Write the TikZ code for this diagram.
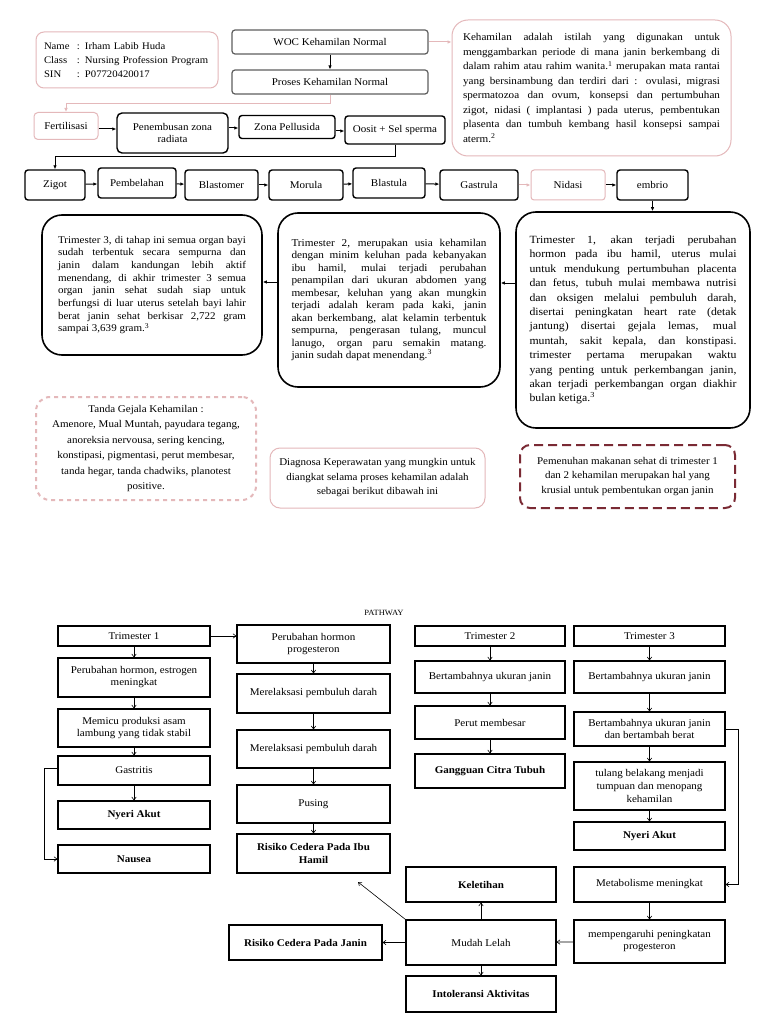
\documentclass[tikz,border=0pt]{standalone}
\usepackage{fontspec}
\setmainfont{Liberation Serif}[FakeStretch=1.07]
\usetikzlibrary{arrows.meta}
\definecolor{pinkline}{RGB}{228,184,186}
\definecolor{wine}{RGB}{122,42,52}
\definecolor{wocgray}{RGB}{95,95,95}
\tikzset{
  pinkbox/.style={draw=pinkline, line width=1pt, rounded corners=6pt, inner sep=0pt, align=center},
  wocbox/.style={draw=wocgray, line width=1.2pt, rounded corners=3pt, inner sep=0pt, minimum width=196, minimum height=24},
  stagebox/.style={draw, line width=1.4pt, rounded corners=3pt, inner sep=0pt, align=center, minimum height=30},
  bigbox/.style={draw, line width=1.6pt, rounded corners=20pt, inner sep=0pt, align=justify},
  pathbox/.style={draw, line width=1.1pt, inner sep=0pt, align=center},
  arr/.style={-{Latex[length=4pt,width=3.5pt]}, line width=1pt},
  pinkarr/.style={-{Latex[length=4pt,width=3.5pt]}, line width=1pt, draw=pinkline},
  parr/.style={-{Straight Barb[length=3pt,width=4.5pt]}, line width=0.6pt}
}
\begin{document}
\begin{tikzpicture}[x=1pt, y=-1pt, font=\fontsize{10.3}{12}\selectfont]
\useasboundingbox (0,0) rectangle (768,1024);
\fill[white] (0,0) rectangle (768,1024);

% Identitas
\node[pinkbox, rounded corners=8pt, minimum width=182, minimum height=56, text width=166, align=left,
  font=\fontsize{10}{14}\selectfont] (ident) at (127,60)
  {\makebox[33pt][l]{Name}: Irham Labib Huda\\ \makebox[33pt][l]{Class}: Nursing Profession Program\\ \makebox[33pt][l]{SIN}: P07720420017};

% Judul WOC
\node[wocbox] (woc) at (330,42) {WOC Kehamilan Normal};
\node[wocbox] (proses) at (330,82) {Proses Kehamilan Normal};
\draw[arr] (woc) -- (proses);

% Pengertian kehamilan
\node[pinkbox, rounded corners=16pt, minimum width=279, minimum height=136, text width=257, align=justify,
  font=\fontsize{10.4}{14.5}\selectfont] (pengertian) at (591.5,88)
  {Kehamilan adalah istilah yang digunakan untuk\linebreak
   menggambarkan periode di mana janin berkembang di\linebreak
   dalam rahim atau rahim wanita.\textsuperscript{1} merupakan mata rantai\linebreak
   yang bersinambung dan terdiri dari : ovulasi, migrasi\linebreak
   spermatozoa dan ovum, konsepsi dan pertumbuhan\linebreak
   zigot, nidasi ( implantasi ) pada uterus, pembentukan\linebreak
   plasenta dan tumbuh kembang hasil konsepsi sampai\linebreak
   aterm.\textsuperscript{2}};
\draw[pinkarr] (woc.east) -- (woc.east -| pengertian.west);

% Fertilisasi
\node[pinkbox, rounded corners=4pt, minimum width=64, minimum height=27] (fertil) at (66,126) {Fertilisasi};
\node[stagebox, minimum width=111, minimum height=40, rounded corners=5pt] (tembus) at (172.5,133) {Penembusan zona\\ radiata};
\node[stagebox, minimum width=96, minimum height=23] (zona) at (287,127) {Zona Pellusida};
\node[stagebox, minimum width=100, minimum height=28] (oosit) at (395,130) {Oosit + Sel sperma};
\draw[pinkarr] (proses.south) -- ++(0,9) -| (fertil.north);
\draw[arr] (fertil.east |- 0,129) -- (tembus.west |- 0,129);
\draw[arr] (tembus.east |- 0,128) -- (zona.west |- 0,128);
\draw[arr] (zona.east |- 0,131) -- (oosit.west |- 0,131);

% Tahap perkembangan
\node[stagebox, minimum width=60] (zigot) at (55,185) {Zigot};
\node[stagebox, minimum width=78] (pembelahan) at (137,183) {Pembelahan};
\node[stagebox, minimum width=73] (blastomer) at (221.5,185) {Blastomer};
\node[stagebox, minimum width=74] (morula) at (306,185) {Morula};
\node[stagebox, minimum width=72] (blastula) at (389,183) {Blastula};
\node[stagebox, minimum width=78] (gastrula) at (479,185) {Gastrula};
\node[pinkbox, rounded corners=3pt, minimum width=74, minimum height=30] (nidasi) at (568,185) {Nidasi};
\node[stagebox, minimum width=71] (embrio) at (652.5,185) {embrio};
\draw[arr] (oosit.south) -- ++(0,12) -| (zigot.north);
\draw[arr] (zigot) -- (pembelahan);
\draw[arr] (pembelahan) -- (blastomer);
\draw[arr] (blastomer) -- (morula);
\draw[arr] (morula) -- (blastula);
\draw[arr] (blastula) -- (gastrula);
\draw[pinkarr] (gastrula) -- (nidasi);
\draw[arr] (nidasi) -- (embrio);

% Trimester
\node[bigbox, minimum width=234, minimum height=216, text width=207, font=\fontsize{11}{14.4}\selectfont] (tri1) at (633,320)
  {Trimester 1, akan terjadi perubahan\linebreak
   hormon pada ibu hamil, uterus mulai\linebreak
   untuk mendukung pertumbuhan placenta\linebreak
   dan fetus, tubuh mulai membawa nutrisi\linebreak
   dan oksigen melalui pembuluh darah,\linebreak
   disertai peningkatan heart rate (detak\linebreak
   jantung) disertai gejala lemas, mual\linebreak
   muntah, sakit kepala, dan konstipasi.\linebreak
   trimester pertama merupakan waktu\linebreak
   yang penting untuk perkembangan janin,\linebreak
   akan terjadi perkembangan organ diakhir\linebreak
   bulan ketiga.\textsuperscript{3}};
\node[bigbox, minimum width=222, minimum height=174, text width=195, font=\fontsize{10.5}{12.5}\selectfont] (tri2) at (389,300)
  {Trimester 2, merupakan usia kehamilan\linebreak
   dengan minim keluhan pada kebanyakan\linebreak
   ibu hamil, mulai terjadi perubahan\linebreak
   penampilan dari ukuran abdomen yang\linebreak
   membesar, keluhan yang akan mungkin\linebreak
   terjadi adalah keram pada kaki, janin\linebreak
   akan berkembang, alat kelamin terbentuk\linebreak
   sempurna, pengerasan tulang, muncul\linebreak
   lanugo, organ paru semakin matang.\linebreak
   janin sudah dapat menendang.\textsuperscript{3}};
\node[bigbox, minimum width=220, minimum height=140, text width=188, font=\fontsize{10.3}{12.7}\selectfont] (tri3) at (152,285)
  {Trimester 3, di tahap ini semua organ bayi\linebreak
   sudah terbentuk secara sempurna dan\linebreak
   janin dalam kandungan lebih aktif\linebreak
   menendang, di akhir trimester 3 semua\linebreak
   organ janin sehat sudah siap untuk\linebreak
   berfungsi di luar uterus setelah bayi lahir\linebreak
   berat janin sehat berkisar 2,722 gram\linebreak
   sampai 3,639 gram.\textsuperscript{3}};
\draw[arr] (embrio.south) -- (embrio.south |- tri1.north);
\draw[arr] (tri1.west |- 0,283) -- (tri2.east |- 0,283);
\draw[arr] (tri2.west |- 0,282) -- (tri3.east |- 0,282);

% Tanda gejala, diagnosa, nutrisi
\node[draw=pinkline, line width=2pt, dash pattern=on 4pt off 4pt, rounded corners=14pt, inner sep=0pt,
  minimum width=220, minimum height=103, align=center, font=\fontsize{10.3}{15.4}\selectfont] (tanda) at (146,448.5)
  {Tanda Gejala Kehamilan :\\ Amenore, Mual Muntah, payudara tegang,\\ anoreksia nervousa, sering kencing,\\
   konstipasi, pigmentasi, perut membesar,\\ tanda hegar, tanda chadwiks, planotest\\ positive.};
\node[pinkbox, rounded corners=10pt, minimum width=215, minimum height=60, font=\fontsize{10.3}{14.5}\selectfont] (diagnosa) at (377.5,478)
  {Diagnosa Keperawatan yang mungkin untuk\\ diangkat selama proses kehamilan adalah\\ sebagai berikut dibawah ini};
\node[draw=wine, line width=2pt, dash pattern=on 9pt off 5pt, rounded corners=10pt, inner sep=0pt,
  minimum width=215, minimum height=63, align=center, font=\fontsize{10.3}{14.5}\selectfont] (nutrisi) at (627.5,476.5)
  {Pemenuhan makanan sehat di trimester 1\\ dan 2 kehamilan merupakan hal yang\\ krusial untuk pembentukan organ janin};

% PATHWAY
\node[font=\fontsize{8}{10}\selectfont] (judulpath) at (384,613) {PATHWAY};

% kolom 1
\node[pathbox, minimum width=152, minimum height=20] (satuT) at (134,636) {Trimester 1};
\node[pathbox, minimum width=152, minimum height=39] (satuHormon) at (134,677.5) {Perubahan hormon, estrogen\\ meningkat};
\node[pathbox, minimum width=152, minimum height=38] (satuAsam) at (134,728) {Memicu produksi asam\\ lambung yang tidak stabil};
\node[pathbox, minimum width=152, minimum height=29] (satuGastritis) at (134,770.5) {Gastritis};
\node[pathbox, minimum width=152, minimum height=28, font=\fontsize{10.3}{12}\selectfont\bfseries] (satuNyeri) at (134,815) {Nyeri Akut};
\node[pathbox, minimum width=152, minimum height=28, font=\fontsize{10.3}{12}\selectfont\bfseries] (satuNausea) at (134,859) {Nausea};
\draw[parr] (satuT) -- (satuHormon);
\draw[parr] (satuHormon) -- (satuAsam);
\draw[parr] (satuAsam) -- (satuGastritis);
\draw[parr] (satuGastritis) -- (satuNyeri);
\draw[parr] (satuGastritis.west |- 0,768) -- ++(-13,0) |- (satuNausea.west);

% kolom 2
\node[pathbox, minimum width=153, minimum height=38] (duaProg) at (313.5,644) {Perubahan hormon\\ progesteron};
\node[pathbox, minimum width=153, minimum height=39] (duaRelaks) at (313.5,693.5) {Merelaksasi pembuluh darah};
\node[pathbox, minimum width=153, minimum height=38] (duaRelaksB) at (313.5,749) {Merelaksasi pembuluh darah};
\node[pathbox, minimum width=153, minimum height=38] (duaPusing) at (313.5,804) {Pusing};
\node[pathbox, minimum width=153, minimum height=39, font=\fontsize{10.3}{13}\selectfont\bfseries] (duaRisiko) at (313.5,853.5) {Risiko Cedera Pada Ibu\\ Hamil};
\draw[parr] (satuT.east) -- (satuT.east -| duaProg.west);
\draw[parr] (duaProg) -- (duaRelaks);
\draw[parr] (duaRelaks) -- (duaRelaksB);
\draw[parr] (duaRelaksB) -- (duaPusing);
\draw[parr] (duaPusing) -- (duaRisiko);

% kolom 3
\node[pathbox, minimum width=150, minimum height=20] (tigaT) at (490,636) {Trimester 2};
\node[pathbox, minimum width=150, minimum height=32] (tigaUkuran) at (490,677) {Bertambahnya ukuran janin};
\node[pathbox, minimum width=150, minimum height=33] (tigaPerut) at (490,722.5) {Perut membesar};
\node[pathbox, minimum width=150, minimum height=34, font=\fontsize{10.3}{12}\selectfont\bfseries] (tigaCitra) at (490,771) {Gangguan Citra Tubuh};
\draw[parr] (tigaT) -- (tigaUkuran);
\draw[parr] (tigaUkuran) -- (tigaPerut);
\draw[parr] (tigaPerut) -- (tigaCitra);

% kolom 4
\node[pathbox, minimum width=151, minimum height=20] (empatT) at (649.5,636) {Trimester 3};
\node[pathbox, minimum width=151, minimum height=32] (empatUkuran) at (649.5,677) {Bertambahnya ukuran janin};
\node[pathbox, minimum width=151, minimum height=34] (empatBerat) at (649.5,729) {Bertambahnya ukuran janin\\ dan bertambah berat};
\node[pathbox, minimum width=151, minimum height=48, font=\fontsize{10.3}{13}\selectfont] (empatTulang) at (649.5,786) {tulang belakang menjadi\\ tumpuan dan menopang\\ kehamilan};
\node[pathbox, minimum width=151, minimum height=28, font=\fontsize{10.3}{12}\selectfont\bfseries] (empatNyeri) at (649.5,836) {Nyeri Akut};
\node[pathbox, minimum width=151, minimum height=35] (empatMetab) at (649.5,884.5) {Metabolisme meningkat};
\node[pathbox, minimum width=151, minimum height=43] (empatProg) at (649.5,941.5) {mempengaruhi peningkatan\\ progesteron};
\draw[parr] (empatT) -- (empatUkuran);
\draw[parr] (empatUkuran) -- (empatBerat);
\draw[parr] (empatBerat) -- (empatTulang);
\draw[parr] (empatTulang) -- (empatNyeri);
\draw[parr] (empatBerat.east) -- ++(13,0) |- (empatMetab.east);
\draw[parr] (empatMetab) -- (empatProg);

% Mudah lelah
\node[pathbox, minimum width=150, minimum height=35, font=\fontsize{10.3}{12}\selectfont\bfseries] (lelahKeletihan) at (481,884.5) {Keletihan};
\node[pathbox, minimum width=150, minimum height=45] (lelah) at (481,942.5) {Mudah Lelah};
\node[pathbox, minimum width=150, minimum height=36, font=\fontsize{10.3}{12}\selectfont\bfseries] (lelahIntoleransi) at (481,994) {Intoleransi Aktivitas};
\node[pathbox, minimum width=153, minimum height=35, font=\fontsize{10.3}{12}\selectfont\bfseries] (lelahJanin) at (305.5,942.5) {Risiko Cedera Pada Janin};
\coordinate (ujungIbu) at (358,882);
\draw[parr] (empatProg) -- (lelah);
\draw[parr] (lelah) -- (lelahKeletihan);
\draw[parr] (lelah) -- (lelahJanin);
\draw[parr] (lelah) -- (lelahIntoleransi);
\draw[parr] (lelah.north west) -- (ujungIbu);
\end{tikzpicture}
\end{document}
